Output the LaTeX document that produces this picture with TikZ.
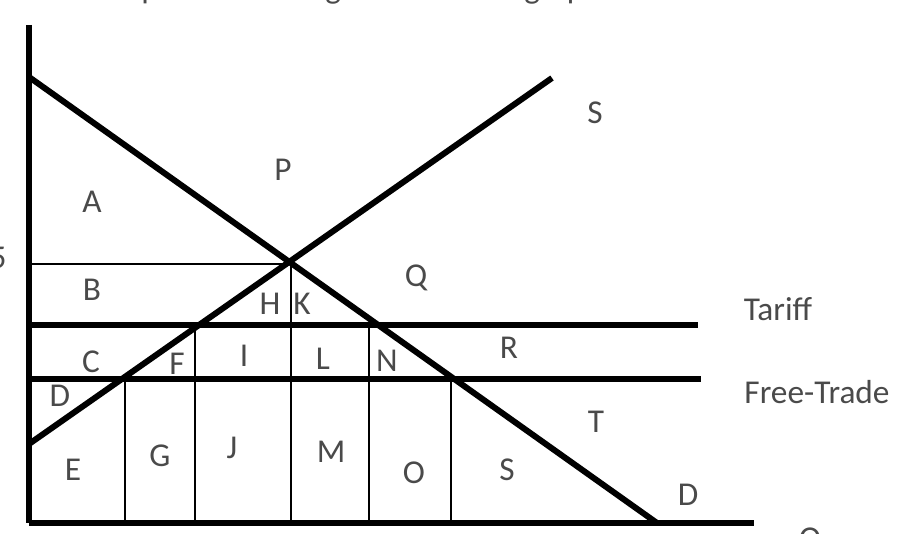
\documentclass[tikz,border=0pt]{standalone}
\usepackage{fontspec}
\setmainfont{Carlito}
\definecolor{labelgrey}{HTML}{4A4A4A}
\tikzset{heavy/.style = {draw, line width = 4.5pt, black}}
\tikzset{light/.style = {draw, line width = 1.1pt, black}}
\tikzset{lbl/.style = {inner sep = 0, text = labelgrey, font = \fontsize{25}{29}\selectfont}}
\begin{document}
\begin{tikzpicture}[x=0.75pt, y=-0.75pt]
    \useasboundingbox (0, 0) rectangle (902, 534);
    \clip (0, 0) rectangle (902, 534);

    \coordinate (origin) at (29, 523);
    \coordinate (ytop) at (29, 25);
    \coordinate (xend) at (754, 523);
    \coordinate (dtop) at (29, 77);
    \coordinate (dend) at (657, 523);
    \coordinate (sbot) at (29, 444);
    \coordinate (send) at (552, 78);
    \coordinate (eq) at (291, 264);
    \coordinate (eqleft) at (29, 264);
    \coordinate (tleft) at (29, 325);
    \coordinate (tright) at (698, 325);
    \coordinate (fleft) at (29, 379);
    \coordinate (fright) at (701, 379);

    \draw [light] (eqleft) -- (eq);
    \draw [light] (125, 379) coordinate (g1) -- (125, 523) coordinate (b1);
    \draw [light] (195, 325) coordinate (g2) -- (195, 523) coordinate (b2);
    \draw [light] (eq) -- (291, 523) coordinate (b3);
    \draw [light] (369, 325) coordinate (g4) -- (369, 523) coordinate (b4);
    \draw [light] (451, 379) coordinate (g5) -- (451, 523) coordinate (b5);

    \draw [heavy] (tleft) -- (tright);
    \draw [heavy] (fleft) -- (fright);
    \draw [heavy] (dtop) -- (dend);
    \draw [heavy] (sbot) -- (send);
    \draw [heavy] (ytop) -- (origin);
    \draw [heavy] (origin) -- (xend);

    \node [lbl, anchor = base west] (title) at (131, -1.5) {questions using areas on the graph};
    \node [lbl, anchor = base east] (titlehead) at (123.5, -1.5) {Answer the};
    \node [lbl] (price) at (-2, 258) {5};
    \node [lbl] (qaxis) at (810, 541) {Q};

    \node [lbl] (a) at (92, 202) {A};
    \node [lbl] (b) at (92, 290) {B};
    \node [lbl] (c) at (91, 362) {C};
    \node [lbl] (d) at (60, 396) {D};
    \node [lbl] (e) at (73, 470) {E};
    \node [lbl] (f) at (177, 364) {F};
    \node [lbl] (g) at (160, 456) {G};
    \node [lbl] (h) at (270, 304) {H};
    \node [lbl] (k) at (302, 304) {K};
    \node [lbl] (i) at (244, 356) {I};
    \node [lbl] (j) at (232, 448) {J};
    \node [lbl] (l) at (323, 359) {L};
    \node [lbl] (m) at (331, 452) {M};
    \node [lbl] (n) at (387, 361) {N};
    \node [lbl] (o) at (414, 473) {O};
    \node [lbl] (p) at (283, 170) {P};
    \node [lbl] (q) at (416, 278) {Q};
    \node [lbl] (r) at (509, 348) {R};
    \node [lbl] (s1) at (595, 113) {S};
    \node [lbl] (s2) at (507, 470) {S};
    \node [lbl] (t) at (596, 422) {T};
    \node [lbl] (d2) at (688, 495) {D};
    \node [lbl] (tariff) at (778, 309) {Tariff};
    \node [lbl] (freetrade) at (817, 392) {Free-Trade};
\end{tikzpicture}
\end{document}
